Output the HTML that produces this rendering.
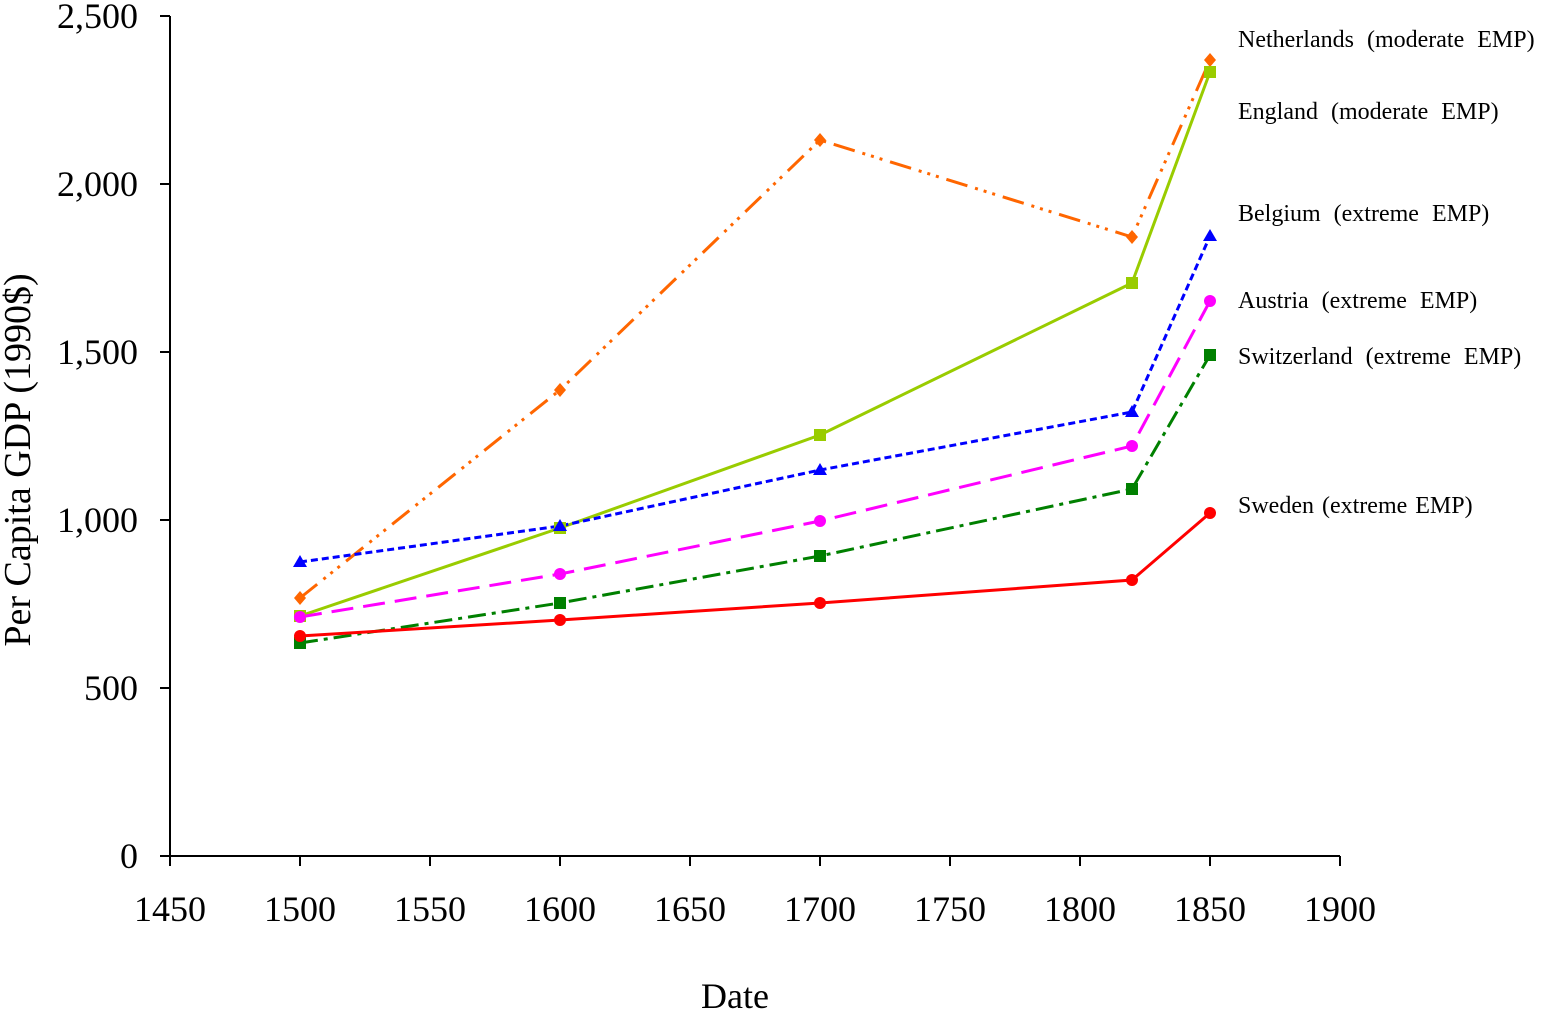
<!DOCTYPE html>
<html><head><style>body{margin:0;background:#fff}svg{display:block}text{font-family:"Liberation Serif",serif;fill:#000}</style></head>
<body>
<svg width="1545" height="1010" viewBox="0 0 1545 1010" xmlns="http://www.w3.org/2000/svg">
<g stroke="#000" stroke-width="2" fill="none">
<line x1="170" y1="16" x2="170" y2="856"/>
<line x1="170" y1="856" x2="1340" y2="856"/>
<line x1="160" y1="16" x2="170" y2="16"/>
<line x1="160" y1="184" x2="170" y2="184"/>
<line x1="160" y1="352" x2="170" y2="352"/>
<line x1="160" y1="520" x2="170" y2="520"/>
<line x1="160" y1="688" x2="170" y2="688"/>
<line x1="160" y1="856" x2="170" y2="856"/>
<line x1="170" y1="856" x2="170" y2="866"/><line x1="300" y1="856" x2="300" y2="866"/><line x1="430" y1="856" x2="430" y2="866"/><line x1="560" y1="856" x2="560" y2="866"/><line x1="690" y1="856" x2="690" y2="866"/><line x1="820" y1="856" x2="820" y2="866"/><line x1="950" y1="856" x2="950" y2="866"/><line x1="1080" y1="856" x2="1080" y2="866"/><line x1="1210" y1="856" x2="1210" y2="866"/><line x1="1340" y1="856" x2="1340" y2="866"/>
</g>
<g font-size="36" text-anchor="end">
<text x="138" y="28">2,500</text><text x="138" y="196">2,000</text><text x="138" y="364">1,500</text><text x="138" y="532">1,000</text><text x="138" y="700">500</text><text x="138" y="868">0</text>
</g>
<g font-size="36" text-anchor="middle">
<text x="170" y="921">1450</text><text x="300" y="921">1500</text><text x="430" y="921">1550</text><text x="560" y="921">1600</text><text x="690" y="921">1650</text><text x="820" y="921">1700</text><text x="950" y="921">1750</text><text x="1080" y="921">1800</text><text x="1210" y="921">1850</text><text x="1340" y="921">1900</text>
<text x="735" y="1008">Date</text>
<text transform="translate(30,460) rotate(-90)" font-size="38">Per Capita GDP (1990$)</text>
</g>
<g fill="none" stroke-width="3">
<polyline stroke="#ff6600" stroke-dasharray="22,8,3,6,3,6,3,8" points="300,598 560,390 820,140 1132,237 1210,60"/>
<polyline stroke="#99cc00" points="300,616 560,528 820,435 1132,283 1210,72"/>
<polyline stroke="#0000ff" stroke-dasharray="7,4" points="300,562 560,526 820,470 1132,412 1210,236"/>
<polyline stroke="#ff00ff" stroke-dasharray="22,10" points="300,617 560,574 820,521 1132,446 1210,301"/>
<polyline stroke="#008000" stroke-dasharray="18,6,4,6" points="300,643 560,603 820,556 1132,489 1210,355"/>
<polyline stroke="#ff0000" points="300,636 560,620 820,603 1132,580 1210,513"/>
</g>
<g fill="#ff6600"><path d="M300,591l6,7-6,7-6-7z"/><path d="M560,383l6,7-6,7-6-7z"/><path d="M820,133l6,7-6,7-6-7z"/><path d="M1132,230l6,7-6,7-6-7z"/><path d="M1210,53l6,7-6,7-6-7z"/></g>
<g fill="#99cc00"><rect x="294" y="610" width="12" height="12"/><rect x="554" y="522" width="12" height="12"/><rect x="814" y="429" width="12" height="12"/><rect x="1126" y="277" width="12" height="12"/><rect x="1204" y="66" width="12" height="12"/></g>
<g fill="#0000ff"><path d="M300,555l7,12h-14z"/><path d="M560,519l7,12h-14z"/><path d="M820,463l7,12h-14z"/><path d="M1132,405l7,12h-14z"/><path d="M1210,229l7,12h-14z"/></g>
<g fill="#ff00ff"><circle cx="300" cy="617" r="6"/><circle cx="560" cy="574" r="6"/><circle cx="820" cy="521" r="6"/><circle cx="1132" cy="446" r="6"/><circle cx="1210" cy="301" r="6"/></g>
<g fill="#008000"><rect x="294" y="637" width="12" height="12"/><rect x="554" y="597" width="12" height="12"/><rect x="814" y="550" width="12" height="12"/><rect x="1126" y="483" width="12" height="12"/><rect x="1204" y="349" width="12" height="12"/></g>
<g fill="#ff0000"><circle cx="300" cy="636" r="6"/><circle cx="560" cy="620" r="6"/><circle cx="820" cy="603" r="6"/><circle cx="1132" cy="580" r="6"/><circle cx="1210" cy="513" r="6"/></g>
<g font-size="24" word-spacing="7">
<text x="1238" y="47">Netherlands (moderate EMP)</text>
<text x="1238" y="119">England (moderate EMP)</text>
<text x="1238" y="221">Belgium (extreme EMP)</text>
<text x="1238" y="308">Austria (extreme EMP)</text>
<text x="1238" y="364">Switzerland (extreme EMP)</text>
<text x="1238" y="513" word-spacing="2">Sweden (extreme EMP)</text>
</g>
</svg>
</body></html>
